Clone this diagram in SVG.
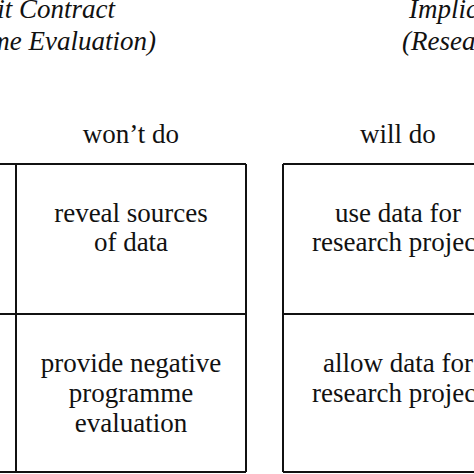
<svg xmlns="http://www.w3.org/2000/svg" width="474" height="474" viewBox="0 0 474 474">
<style>
.t{font-family:"Liberation Serif","Times New Roman",serif;font-size:27px;fill:#111}
.ti{font-family:"Liberation Serif","Times New Roman",serif;font-size:27px;font-style:italic;fill:#111}
.c{text-anchor:middle}
.ln{stroke:#111;stroke-width:2;fill:none}
</style>
<rect width="474" height="474" fill="#fff"/>
<g id="title-left">
<text class="ti" x="115" y="18" text-anchor="end">it Contract</text>
<text class="ti" x="156" y="50" text-anchor="end">me Evaluation)</text>
</g>
<g id="title-right">
<text class="ti" x="409" y="18">Implic</text>
<text class="ti" x="402" y="50">(Resea</text>
</g>
<g id="header-wont">
<text class="t c" x="131" y="143">won’t do</text>
</g>
<g id="header-will">
<text class="t c" x="398" y="143">will do</text>
</g>
<g id="grid-left">
<path class="ln" d="M0 164H246M0 314H246M0 472H246M16 164V472M246 164V472"/>
</g>
<g id="grid-right">
<path class="ln" d="M283 164H474M283 314H474M283 472H474M283 164V472"/>
</g>
<g id="cell-reveal">
<text class="t c" x="131" y="222">reveal sources</text>
<text class="t c" x="131" y="251">of data</text>
</g>
<g id="cell-provide">
<text class="t c" x="131" y="372">provide negative</text>
<text class="t c" x="131" y="402">programme</text>
<text class="t c" x="131" y="432">evaluation</text>
</g>
<g id="cell-use">
<text class="t c" x="398" y="222">use data for</text>
<text class="t" x="312" y="251">research projec</text>
</g>
<g id="cell-allow">
<text class="t c" x="398" y="372">allow data for</text>
<text class="t" x="312" y="402">research projec</text>
</g>
</svg>
